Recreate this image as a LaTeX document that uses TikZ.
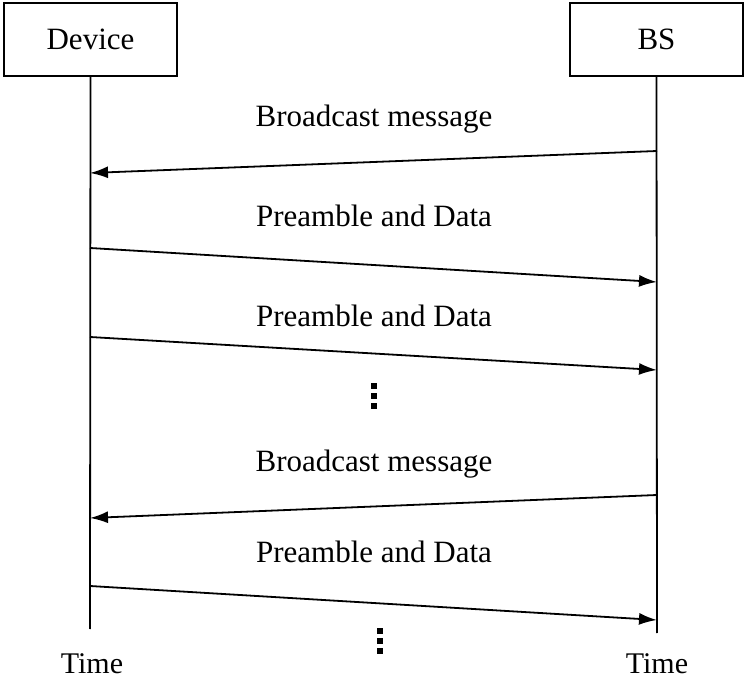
\documentclass[tikz,border=0pt]{standalone}
\usepackage{fontspec}
\setmainfont{Liberation Serif}
\usetikzlibrary{arrows.meta}
\begin{document}
\begin{tikzpicture}[x=0.5pt,y=-0.5pt,
  lbl/.style={font=\fontsize{15.5pt}{18pt}\selectfont, inner sep=0pt},
  actor/.style={draw, line width=1pt, minimum width=86.5pt, minimum height=36.5pt, inner sep=0pt, font=\fontsize{15.5pt}{18pt}\selectfont},
  life/.style={line width=0.9pt},
  msg/.style={line width=0.9pt, -{Latex[length=9pt,width=6pt]}},
  dot/.style={fill=black, minimum size=2.6pt, inner sep=0pt}]
\useasboundingbox (0,0) rectangle (750,678);
% actors
\node[actor] (dev) at (90.5,39.5) {Device};
\node[actor] (bs) at (656.5,39.5) {BS};
% lifeline ends
\coordinate (devend) at (90,629);
\coordinate (bsend) at (657,633);
\draw[life] (dev.south) -- (devend);
\draw[life] (bs.south) -- (bsend);
% time labels
\node[lbl, font=\fontsize{15pt}{18pt}\selectfont] (t1) at (92,664) {Time};
\node[lbl, font=\fontsize{15pt}{18pt}\selectfont] (t2) at (657,664) {Time};
% message endpoints
\coordinate (b1s) at (657,151); \coordinate (b1e) at (90,173);
\coordinate (p1s) at (90,248);  \coordinate (p1e) at (657,282);
\coordinate (p2s) at (90,337);  \coordinate (p2e) at (657,370);
\coordinate (b2s) at (657,495); \coordinate (b2e) at (90,518);
\coordinate (p3s) at (90,586);  \coordinate (p3e) at (657,620);
% messages
\draw[msg] (b1s) -- (b1e);
\draw[msg] (p1s) -- (p1e);
\draw[msg] (p2s) -- (p2e);
\draw[msg] (b2s) -- (b2e);
\draw[msg] (p3s) -- (p3e);
% labels
\node[lbl] (l1) at (374,119) {Broadcast message};
\node[lbl] (l2) at (374,216) {Preamble and Data};
\node[lbl] (l3) at (374,316) {Preamble and Data};
\node[lbl] (l4) at (374,464) {Broadcast message};
\node[lbl] (l5) at (374,552) {Preamble and Data};
% dots
\node[dot] (d1) at (374,386) {};
\node[dot] (d2) at (374,396) {};
\node[dot] (d3) at (374,406) {};
\node[dot] (d4) at (380,631) {};
\node[dot] (d5) at (380,641) {};
\node[dot] (d6) at (380,651) {};
\end{tikzpicture}
\end{document}
